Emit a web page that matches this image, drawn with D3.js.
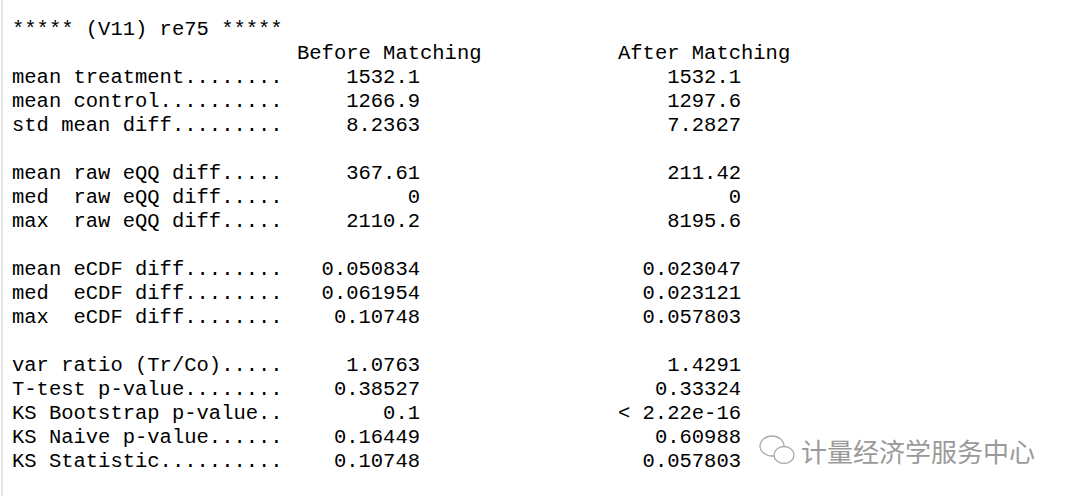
<!DOCTYPE html>
<html><head><meta charset="utf-8">
<script src="https://cdn.jsdelivr.net/npm/d3@7/dist/d3.min.js"></script>
<style>body{margin:0;background:#fff;}</style></head>
<body><script>
const title = "***** (V11) re75 *****";
const columns = ["Before Matching", "After Matching"];
const labels = ["mean treatment........","mean control..........","std mean diff.........","",
 "mean raw eQQ diff.....","med  raw eQQ diff.....","max  raw eQQ diff.....","",
 "mean eCDF diff........","med  eCDF diff........","max  eCDF diff........","",
 "var ratio (Tr/Co).....","T-test p-value........","KS Bootstrap p-value..","KS Naive p-value......","KS Statistic.........."];
const beforeVals = ["1532.1","1266.9","8.2363","","367.61","0","2110.2","","0.050834","0.061954","0.10748","","1.0763","0.38527","0.1","0.16449","0.10748"];
const afterVals = ["1532.1","1297.6","7.2827","","211.42","0","8195.6","","0.023047","0.023121","0.057803","","1.4291","0.33324","< 2.22e-16","0.60988","0.057803"];
const watermark = "计量经济学服务中心";

const W=1069,H=496;
const svg=d3.select("body").append("svg").attr("width",W).attr("height",H);
svg.append("line").attr("x1",2).attr("x2",2).attr("y1",0).attr("y2",H).attr("stroke","#e6e6e6").attr("stroke-width",2);
const font="'Liberation Mono','DejaVu Sans Mono',monospace";
const y=d3.scaleLinear().domain([0,1]).range([35,59]);
const g=svg.append("g").attr("font-family",font).attr("font-size","20.5px").attr("fill","#000").style("white-space","pre");
g.append("text").attr("xml:space","preserve").attr("x",12).attr("y",y(0)).text(title);
const colX=[297,618];
g.selectAll("text.h").data(columns).join("text").attr("class","h").attr("x",(d,i)=>colX[i]).attr("y",y(1)).text(d=>d);
labels.forEach((l,i)=>{
  if(!l) return;
  const yy=y(i+2);
  g.append("text").attr("xml:space","preserve").attr("x",12).attr("y",yy).text(l);
  g.append("text").attr("x",420).attr("y",yy).attr("text-anchor","end").text(beforeVals[i]);
  g.append("text").attr("xml:space","preserve").attr("x",741).attr("y",yy).attr("text-anchor","end").text(afterVals[i]);
});
const wm=svg.append("g").attr("fill","none").attr("stroke","#aaa").attr("stroke-width",1.3);
wm.append("ellipse").attr("cx",772).attr("cy",446).attr("rx",12).attr("ry",10);
wm.append("ellipse").attr("cx",784).attr("cy",455).attr("rx",10).attr("ry",8.5).attr("fill","#fff");
svg.append("text").attr("x",801).attr("y",462).attr("font-family","'Noto Sans CJK SC'").attr("font-size","26px").attr("fill","#9a9a9a").text(watermark);
</script></body></html>
